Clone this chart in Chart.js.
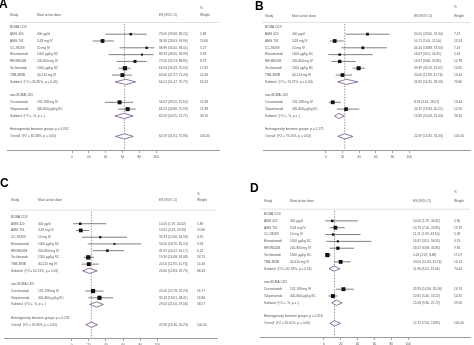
<!DOCTYPE html>
<html>
<head>
<meta charset="utf-8">
<script src="https://cdn.jsdelivr.net/npm/chart.js@4/dist/chart.umd.min.js"></script>
<style>
  body { margin: 0; background: #fff; width: 474px; height: 345px; overflow: hidden; position: relative; }
  canvas { position: absolute; }
</style>
</head>
<body>
<canvas id="pA" width="237" height="172" style="left:0;top:0"></canvas>
<canvas id="pB" width="237" height="172" style="left:237px;top:0"></canvas>
<canvas id="pC" width="237" height="173" style="left:0;top:172px"></canvas>
<canvas id="pD" width="237" height="173" style="left:237px;top:172px"></canvas>
<script>
// study names and doses (7 BCMA CD3 + 2 non-BCMA CD3)
const studies = ['AMG 420', 'AMG 701', 'CC-93269', 'Elranatamab', 'REGN5458', 'Teclistamab', 'TNB-383B', 'Cevostamab', 'Talquetamab'];
const doses = ['400 µg/d', '3-18 mg IV', '10 mg IV', '1000 µg/kg SC', '200-800 mg IV', '1500 µg/kg SC', '40-120 mg IV', '132-198 mg IV', '405-800 µg/kg SC'];
const groups = ['BCMA CD3', 'non-BCMA CD3'];
const xTicks = [0, 20, 40, 60, 80, 100];

// panel A
const aEs = [70.00, 36.36, 88.89, 83.33, 75.00, 63.03, 60.00, 56.67, 66.22];
const aLo = [39.68, 24.63, 56.50, 43.65, 53.13, 55.43, 47.37, 39.20, 54.86];
const aHi = [89.22, 49.96, 98.01, 96.99, 88.81, 70.02, 71.43, 72.62, 75.95];
const aWt = [5.68, 13.66, 5.27, 3.93, 8.73, 17.69, 14.28, 15.38, 15.38];
const aSumEs = [64.01, 62.09, 62.59];
const aSumLo = [51.47, 50.95, 51.81];
const aSumHi = [75.75, 72.71, 72.86];
const aSumWt = [69.24, 30.76, 100.00];
const aI2 = ['56.85%', '.%', '82.38%'];
const aP = ['0.03', '.', '0.00'];
const aHet = '0.952';

// panel B
const bEs = [50.00, 10.71, 44.44, 16.67, 16.67, 39.39, 20.00, 8.33, 24.32];
const bLo = [23.66, 5.00, 18.88, 3.01, 6.68, 32.26, 11.83, 3.61, 13.36];
const bHi = [76.34, 21.50, 73.33, 56.35, 35.85, 47.01, 31.76, 18.07, 40.21];
const bWt = [7.47, 13.24, 7.47, 5.61, 10.78, 15.65, 13.44, 13.44, 12.90];
const bSumEs = [24.82, 15.89, 22.69];
const bSumLo = [14.35, 10.46, 14.35];
const bSumHi = [38.49, 22.04, 32.43];
const bSumWt = [73.66, 26.34, 100.00];
const bI2 = ['74.72%', '.%', '79.20%'];
const bP = ['0.00', '.', '0.00'];
const bHet = '0.171';

// panel C
const cEs = [10.00, 10.61, 33.33, 50.00, 41.67, 19.39, 20.00, 25.00, 32.43];
const cLo = [1.79, 5.23, 12.06, 18.76, 24.47, 14.08, 11.83, 15.78, 19.61];
const cHi = [40.42, 20.33, 64.58, 81.24, 61.17, 26.08, 31.76, 37.23, 48.41];
const cWt = [5.89, 13.66, 4.70, 3.43, 6.22, 18.13, 14.40, 16.77, 16.80];
const cSumEs = [20.60, 29.04, 22.96];
const cSumLo = [12.83, 21.00, 16.36];
const cSumHi = [29.75, 37.06, 30.23];
const cSumWt = [66.43, 33.57, 100.00];
const cI2 = ['62.11%', '.%', '55.86%'];
const cP = ['0.01', '.', '0.02'];
const cHet = '0.231';

// panel D
const dEs = [10.00, 13.79, 11.11, 16.67, 16.67, 4.24, 20.00, 23.33, 10.81];
const dLo = [1.79, 7.16, 1.99, 3.01, 6.68, 2.07, 11.83, 14.36, 5.40];
const dHi = [40.42, 24.85, 43.50, 56.35, 35.85, 8.48, 31.76, 35.58, 16.22];
const dWt = [5.90, 13.79, 5.39, 4.19, 9.96, 17.07, 14.14, 14.74, 14.82];
const dSumEs = [11.96, 15.08, 12.72];
const dSumLo = [6.24, 9.36, 7.04];
const dSumHi = [19.04, 21.72, 19.85];
const dSumWt = [70.44, 29.56, 100.00];
const dI2 = ['62.28%', '.%', '65.61%'];
const dP = ['0.01', '.', '0.00'];
const dHet = '0.618';

// row slots: group label, 7 studies, subtotal, gap, group label, 2 studies, subtotal, gap, heterogeneity, overall
const studyRows = [1, 2, 3, 4, 5, 6, 7, 11, 12];
const groupRows = [0, 10];
const sumRows = [8, 13, 16];
const hetRow = 15;

const FONT = "'Liberation Sans', Arial, sans-serif";
const TXT = 3.2;
const TXT_COLOR = '#555';

function ci(e, l, h) {
	return e.toFixed(2) + ' (' + l.toFixed(2) + ', ' + h.toFixed(2) + ')';
}

const forestPlugin = {
	id: 'forest',
	beforeDatasetsDraw(chart) {
		const p = chart.options.plugins.forest;
		const x = chart.scales.x, y = chart.scales.y, ctx = chart.ctx;
		const area = chart.chartArea;
		ctx.save();
		// separator under the header
		const sy = y.getPixelForValue(p.sepRow);
		ctx.strokeStyle = '#dadada';
		ctx.lineWidth = 0.8;
		ctx.beginPath();
		ctx.moveTo(p.sepL, sy);
		ctx.lineTo(area.right, sy);
		ctx.stroke();
		// dashed line at overall estimate
		const ox = x.getPixelForValue(p.sumEs[2]);
		ctx.setLineDash([1.4, 1.4]);
		ctx.strokeStyle = '#8d6e9b';
		ctx.lineWidth = 0.8;
		ctx.beginPath();
		ctx.moveTo(ox, sy + 1.5);
		ctx.lineTo(ox, area.bottom);
		ctx.stroke();
		ctx.setLineDash([]);
		// confidence intervals
		ctx.strokeStyle = '#4a4a4a';
		ctx.lineWidth = 0.7;
		studyRows.forEach((r, i) => {
			const py = y.getPixelForValue(r);
			ctx.beginPath();
			ctx.moveTo(x.getPixelForValue(p.lo[i]), py);
			ctx.lineTo(x.getPixelForValue(p.hi[i]), py);
			ctx.stroke();
		});
		// pooled diamonds
		ctx.strokeStyle = '#5d3d7a';
		ctx.fillStyle = '#fff';
		ctx.lineWidth = 0.7;
		sumRows.forEach((r, i) => {
			const py = y.getPixelForValue(r);
			const l = x.getPixelForValue(p.sumLo[i]);
			const m = x.getPixelForValue(p.sumEs[i]);
			const h = x.getPixelForValue(p.sumHi[i]);
			ctx.beginPath();
			ctx.moveTo(l, py);
			ctx.lineTo(m, py - 2.6);
			ctx.lineTo(h, py);
			ctx.lineTo(m, py + 2.6);
			ctx.closePath();
			ctx.fill();
			ctx.stroke();
		});
		ctx.restore();
	},
	afterDatasetsDraw(chart) {
		const p = chart.options.plugins.forest;
		const y = chart.scales.y, ctx = chart.ctx;
		const c = p.cols;
		ctx.save();
		ctx.fillStyle = TXT_COLOR;
		ctx.textBaseline = 'middle';
		ctx.font = TXT + 'px ' + FONT;
		const put = (t, cx, r) => ctx.fillText(t, cx, y.getPixelForValue(r));
		// header
		put('Study', c[0], p.headRow);
		put('Most active dose', c[1], p.headRow);
		put('ES (95% CI)', c[2], p.headRow);
		put('%', c[3], p.pctRow);
		put('Weight', c[3], p.headRow);
		groupRows.forEach((r, g) => put(groups[g], c[0], r));
		studyRows.forEach((r, i) => {
			put(studies[i], c[0], r);
			put(doses[i], c[1], r);
			put(ci(p.es[i], p.lo[i], p.hi[i]), c[2], r);
			put(p.wt[i].toFixed(2), c[3], r);
		});
		sumRows.forEach((r, i) => {
			const lab = (i < 2 ? 'Subtotal' : 'Overall') + '  (I^2 = ' + p.i2[i] + ', p = ' + p.pv[i] + ')';
			put(lab, c[0], r);
			put(ci(p.sumEs[i], p.sumLo[i], p.sumHi[i]), c[2], r);
			put(p.sumWt[i].toFixed(2), c[3], r);
		});
		put('Heterogeneity between groups: p = ' + p.het, c[0], hetRow);
		// panel letter
		ctx.font = 'bold 12px ' + FONT;
		ctx.fillStyle = '#000';
		ctx.fillText(p.letter, p.letterX, p.letterY);
		ctx.restore();
	}
};

function makePanel(id, d, lay) {
	const k = (lay.hundred - lay.zero) / 100;
	const rowOf = py => (py - lay.row0) / lay.step;
	const opts = Object.assign({}, d, {
		cols: lay.cols, letter: lay.letter, letterX: lay.letterX, letterY: lay.letterY,
		headRow: rowOf(lay.headY), pctRow: rowOf(lay.pctY), sepRow: rowOf(lay.sepY), sepL: lay.sepL
	});
	new Chart(document.getElementById(id), {
		type: 'scatter',
		data: {
			datasets: [{
				data: studyRows.map((r, i) => ({ x: d.es[i], y: r })),
				pointStyle: 'rect',
				pointRadius: ctx => Math.sqrt(d.wt[ctx.dataIndex]) * 0.72,
				backgroundColor: '#111',
				borderWidth: 0
			}]
		},
		options: {
			responsive: false,
			animation: false,
			devicePixelRatio: 1,
			layout: { padding: { left: lay.areaL, right: lay.w - lay.areaR, top: 0, bottom: 0 } },
			plugins: { legend: { display: false }, tooltip: { enabled: false }, forest: opts },
			scales: {
				x: {
					type: 'linear',
					min: (lay.areaL - lay.zero) / k,
					max: (lay.areaR - lay.zero) / k,
					afterBuildTicks: s => { s.ticks = xTicks.map(v => ({ value: v })); },
					afterFit: s => { s.height = lay.h - lay.axisY; },
					grid: { drawOnChartArea: false, drawTicks: true, tickLength: 3, color: '#666', lineWidth: 0.6 },
					border: { display: true, color: '#9a9a9a', width: 1 },
					ticks: { color: TXT_COLOR, font: { size: TXT, family: FONT }, padding: 2, maxRotation: 0 }
				},
				y: {
					type: 'linear',
					display: false,
					reverse: true,
					min: -lay.row0 / lay.step,
					max: (lay.axisY - lay.row0) / lay.step
				}
			}
		},
		plugins: [forestPlugin]
	});
}

makePanel('pA',
	{ es: aEs, lo: aLo, hi: aHi, wt: aWt, sumEs: aSumEs, sumLo: aSumLo, sumHi: aSumHi, sumWt: aSumWt, i2: aI2, pv: aP, het: aHet },
	{ w: 237, h: 172, areaL: 7, areaR: 219, zero: 72, hundred: 156, row0: 24, step: 7, axisY: 150,
	  cols: [10, 37, 159, 200], headY: 11, pctY: 4, sepY: 19, sepL: 11, letter: 'A', letterX: -1, letterY: 5 });

makePanel('pB',
	{ es: bEs, lo: bLo, hi: bHi, wt: bWt, sumEs: bSumEs, sumLo: bSumLo, sumHi: bSumHi, sumWt: bSumWt, i2: bI2, pv: bP, het: bHet },
	{ w: 237, h: 172, areaL: 26, areaR: 237, zero: 90, hundred: 175, row0: 24, step: 7, axisY: 150,
	  cols: [28, 55, 177, 217], headY: 12, pctY: 3, sepY: 19, sepL: 25, letter: 'B', letterX: 18, letterY: 7 });

makePanel('pC',
	{ es: cEs, lo: cLo, hi: cHi, wt: cWt, sumEs: cSumEs, sumLo: cSumLo, sumHi: cSumHi, sumWt: cSumWt, i2: cI2, pv: cP, het: cHet },
	{ w: 237, h: 173, areaL: 3, areaR: 217, zero: 71, hundred: 157, row0: 42, step: 6.9, axisY: 166,
	  cols: [11, 38, 159, 197], headY: 25, pctY: 19, sepY: 35, sepL: 10, letter: 'C', letterX: 0, letterY: 12 });

makePanel('pD',
	{ es: dEs, lo: dLo, hi: dHi, wt: dWt, sumEs: dSumEs, sumLo: dSumLo, sumHi: dSumHi, sumWt: dSumWt, i2: dI2, pv: dP, het: dHet },
	{ w: 237, h: 173, areaL: 23, areaR: 237, zero: 88, hundred: 174, row0: 39, step: 7, axisY: 165,
	  cols: [27, 53, 176, 217], headY: 26, pctY: 17, sepY: 34, sepL: 24, letter: 'D', letterX: 13, letterY: 17 });
</script>
</body>
</html>
